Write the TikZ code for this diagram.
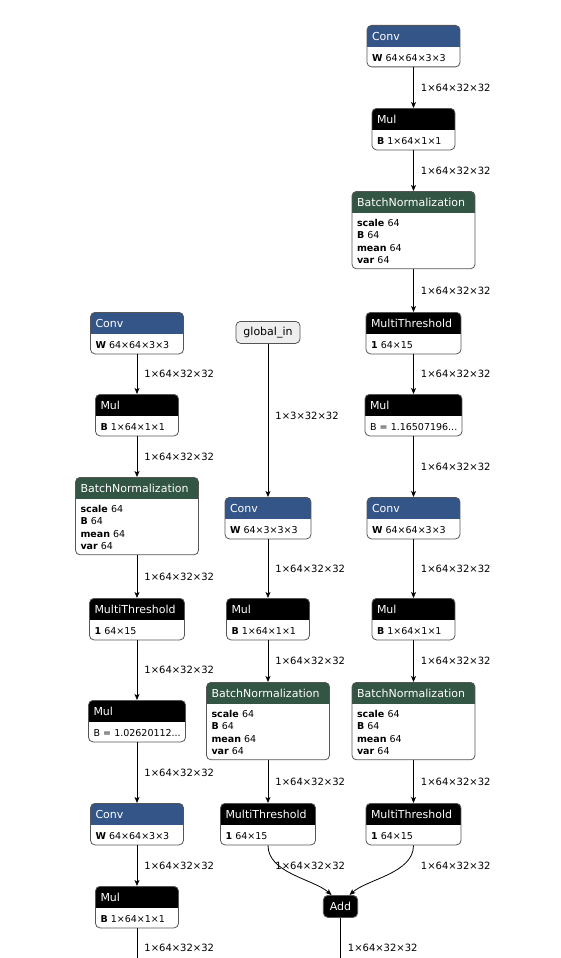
\documentclass[tikz,border=0pt]{standalone}
\usepackage{fontspec}
\setmainfont{DejaVu Sans}
\usetikzlibrary{positioning, arrows.meta}
\definecolor{convblue}{HTML}{335588}
\definecolor{normgreen}{HTML}{335544}
\definecolor{inputgray}{HTML}{EEEEEE}
\definecolor{rimgray}{HTML}{555555}
% title line of an operator box and struts for its attribute lines
\newcommand{\hd}[1]{\setlength{\lineskip}{0pt}\rule[-7pt]{0pt}{22pt}\textcolor{white}{\fontsize{11}{13}\selectfont #1}}
\newcommand{\lnfirst}{\rule{0pt}{13pt}}
\newcommand{\lnlast}{\rule[-5.5pt]{0pt}{5.5pt}}

\begin{document}
\begin{tikzpicture}[
    x=1pt, y=-1pt,
    every node/.style={font=\fontsize{9.5}{12.3}\selectfont},
    opnode/.style={
      draw=rimgray, line width=0.8pt, fill=white,
      rounded corners=4.5pt, anchor=north,
      inner xsep=5pt, inner ysep=0pt,
      text width=#1, align=left,
    },
    hdfill/.style={
      path picture={\fill[#1, sharp corners] (path picture bounding box.north west)
        rectangle ([yshift=-22pt]path picture bounding box.north east);},
    },
    conv/.style={opnode=#1, hdfill=convblue},
    mul/.style={opnode=#1, hdfill=black},
    bnorm/.style={opnode=113pt, hdfill=normgreen},
    mthr/.style={opnode=85pt, hdfill=black},
    innode/.style={
      draw=rimgray, line width=0.8pt, fill=inputgray,
      rounded corners=4.5pt, anchor=north,
      minimum height=22pt, inner xsep=7.5pt, inner ysep=0pt,
      font=\fontsize{11}{13}\selectfont,
    },
    addnode/.style={
      draw=rimgray, line width=0.8pt, fill=black, text=white,
      rounded corners=4.5pt, anchor=north,
      minimum height=22pt, inner xsep=6.5pt, inner ysep=0pt,
      font=\fontsize{11}{13}\selectfont,
    },
    edge/.style={
      draw=black, line width=0.8pt,
      -{Stealth[length=6pt, width=5pt, inset=1.5pt]},
    },
    lbl/.style={
      right, inner sep=0pt, xshift=7pt,
      font=\fontsize{10}{12}\selectfont,
    },
  ]
  \useasboundingbox (0,0) rectangle (560,958);
  \clip (0,0) rectangle (560,958);

  % right branch
  \node[conv=83pt] (convR1) at (413.5,25) {\hd{Conv}\\\lnfirst\textbf{W}~64×64×3×3\lnlast};
  \node[mul=73pt] (mulR1) at (413.5,108) {\hd{Mul}\\\lnfirst\textbf{B}~1×64×1×1\lnlast};
  \node[bnorm] (bnR1) at (413.5,191) {\hd{BatchNormalization}\\\lnfirst\textbf{scale}~64\\\textbf{B}~64\\\textbf{mean}~64\\\textbf{var}~64\lnlast};
  \node[mthr] (mtR1) at (413.5,312) {\hd{MultiThreshold}\\\lnfirst\textbf{1}~64×15\lnlast};
  \node[mul=87pt] (mulR2) at (413.5,394) {\hd{Mul}\\\lnfirst B~=~1.16507196...\lnlast};
  \node[conv=83pt] (convR2) at (413.5,497) {\hd{Conv}\\\lnfirst\textbf{W}~64×64×3×3\lnlast};
  \node[mul=73pt] (mulR3) at (413.5,598) {\hd{Mul}\\\lnfirst\textbf{B}~1×64×1×1\lnlast};
  \node[bnorm] (bnR2) at (413.5,682) {\hd{BatchNormalization}\\\lnfirst\textbf{scale}~64\\\textbf{B}~64\\\textbf{mean}~64\\\textbf{var}~64\lnlast};
  \node[mthr] (mtR2) at (413.5,803) {\hd{MultiThreshold}\\\lnfirst\textbf{1}~64×15\lnlast};

  % middle branch
  \node[innode] (gin) at (268,321) {global\_in};
  \node[conv=76pt] (convM) at (268,497) {\hd{Conv}\\\lnfirst\textbf{W}~64×3×3×3\lnlast};
  \node[mul=73pt] (mulM) at (268,598) {\hd{Mul}\\\lnfirst\textbf{B}~1×64×1×1\lnlast};
  \node[bnorm] (bnM) at (268,682) {\hd{BatchNormalization}\\\lnfirst\textbf{scale}~64\\\textbf{B}~64\\\textbf{mean}~64\\\textbf{var}~64\lnlast};
  \node[mthr] (mtM) at (268,803) {\hd{MultiThreshold}\\\lnfirst\textbf{1}~64×15\lnlast};
  \node[addnode] (add) at (340.5,895) {Add};
  \coordinate (outA) at (340.5,977);

  % left branch
  \node[conv=83pt] (convL1) at (137,312) {\hd{Conv}\\\lnfirst\textbf{W}~64×64×3×3\lnlast};
  \node[mul=73pt] (mulL1) at (137,394) {\hd{Mul}\\\lnfirst\textbf{B}~1×64×1×1\lnlast};
  \node[bnorm] (bnL) at (137,477) {\hd{BatchNormalization}\\\lnfirst\textbf{scale}~64\\\textbf{B}~64\\\textbf{mean}~64\\\textbf{var}~64\lnlast};
  \node[mthr] (mtL) at (137,598) {\hd{MultiThreshold}\\\lnfirst\textbf{1}~64×15\lnlast};
  \node[mul=87pt] (mulL2) at (137,700) {\hd{Mul}\\\lnfirst B~=~1.02620112...\lnlast};
  \node[conv=83pt] (convL2) at (137,803) {\hd{Conv}\\\lnfirst\textbf{W}~64×64×3×3\lnlast};
  \node[mul=73pt] (mulL3) at (137,886) {\hd{Mul}\\\lnfirst\textbf{B}~1×64×1×1\lnlast};
  \coordinate (outL) at (137,968);

  \draw[edge] (convR1) -- node[lbl] {1×64×32×32} (mulR1);
  \draw[edge] (mulR1) -- node[lbl] {1×64×32×32} (bnR1);
  \draw[edge] (bnR1) -- node[lbl] {1×64×32×32} (mtR1);
  \draw[edge] (mtR1) -- node[lbl] {1×64×32×32} (mulR2);
  \draw[edge] (mulR2) -- node[lbl] {1×64×32×32} (convR2);
  \draw[edge] (convR2) -- node[lbl] {1×64×32×32} (mulR3);
  \draw[edge] (mulR3) -- node[lbl] {1×64×32×32} (bnR2);
  \draw[edge] (bnR2) -- node[lbl] {1×64×32×32} (mtR2);
  \draw[edge] (mtR2.south) .. controls +(0,28) and +(18,-16) ..
    node[lbl, pos=0, yshift=-21pt] {1×64×32×32} ([xshift=9pt]add.north);

  \draw[edge] (gin) -- node[lbl, pos=0.47] {1×3×32×32} (convM);
  \draw[edge] (convM) -- node[lbl] {1×64×32×32} (mulM);
  \draw[edge] (mulM) -- node[lbl] {1×64×32×32} (bnM);
  \draw[edge] (bnM) -- node[lbl] {1×64×32×32} (mtM);
  \draw[edge] (mtM.south) .. controls +(0,28) and +(-18,-16) ..
    node[lbl, pos=0, yshift=-21pt] {1×64×32×32} ([xshift=-9pt]add.north);
  \draw[edge] (add) -- node[lbl] {1×64×32×32} (outA);

  \draw[edge] (convL1) -- node[lbl] {1×64×32×32} (mulL1);
  \draw[edge] (mulL1) -- node[lbl] {1×64×32×32} (bnL);
  \draw[edge] (bnL) -- node[lbl] {1×64×32×32} (mtL);
  \draw[edge] (mtL) -- node[lbl] {1×64×32×32} (mulL2);
  \draw[edge] (mulL2) -- node[lbl] {1×64×32×32} (convL2);
  \draw[edge] (convL2) -- node[lbl] {1×64×32×32} (mulL3);
  \draw[edge] (mulL3) -- node[lbl] {1×64×32×32} (outL);
\end{tikzpicture}
\end{document}
